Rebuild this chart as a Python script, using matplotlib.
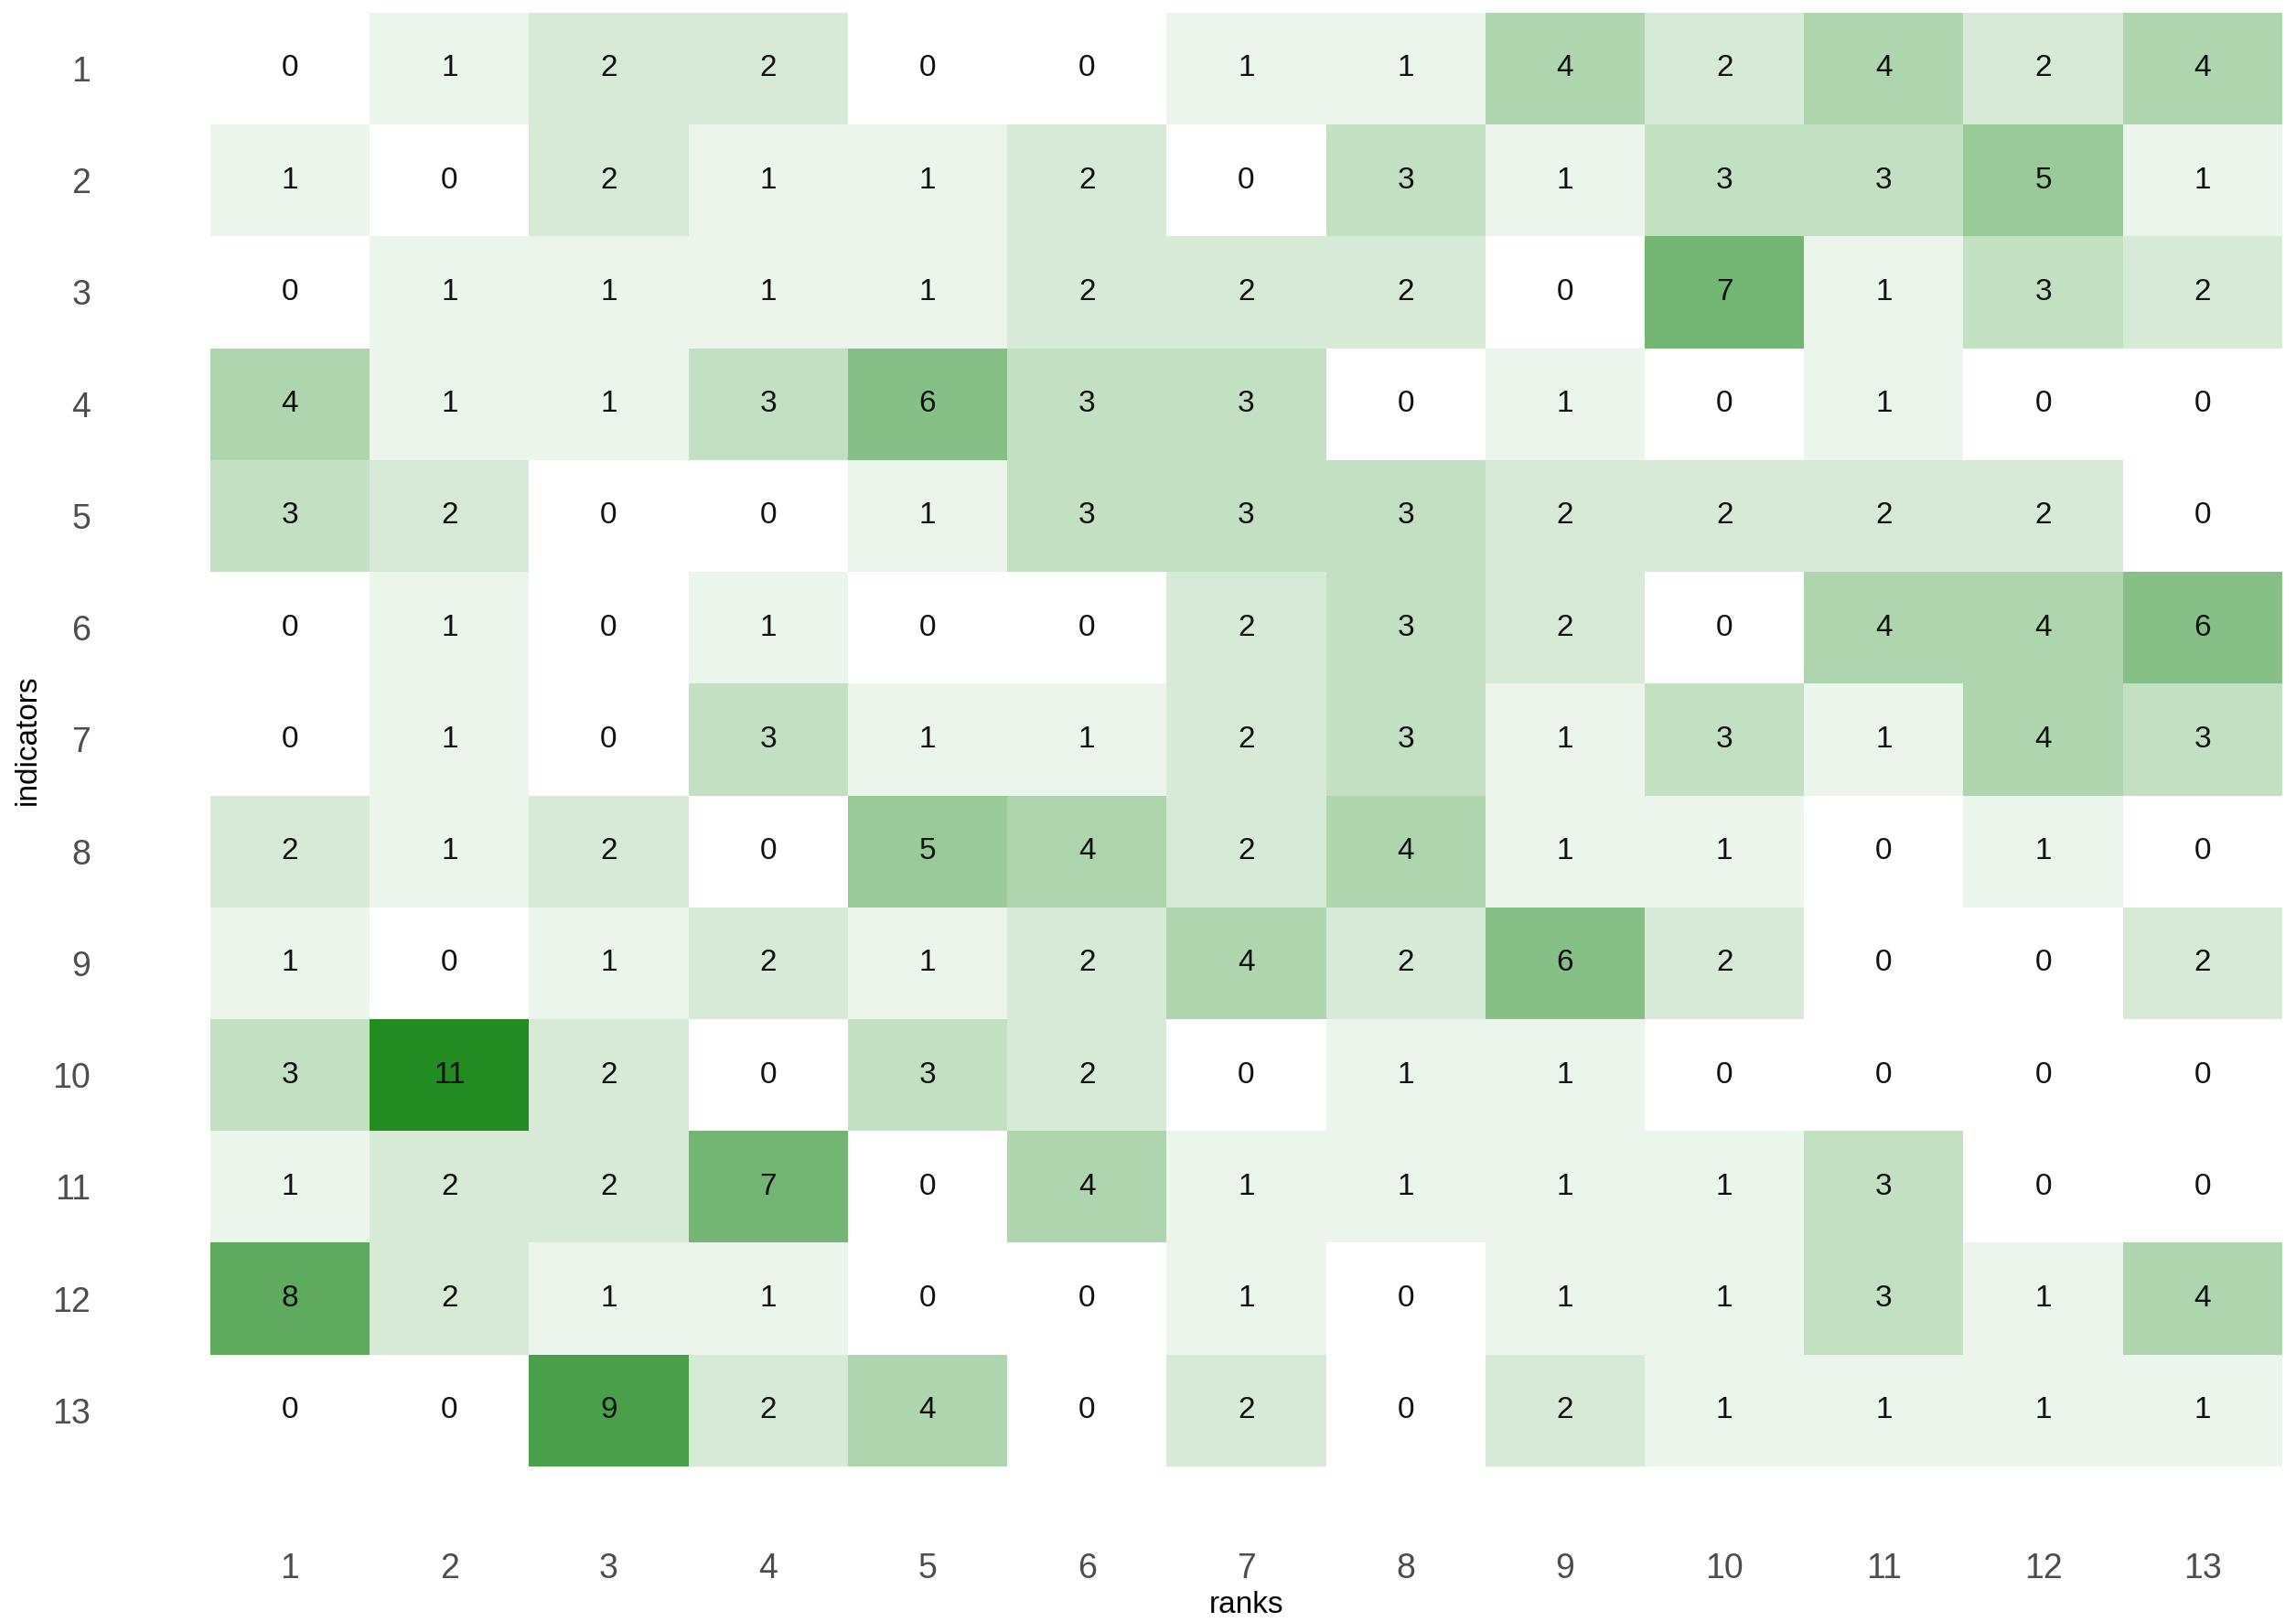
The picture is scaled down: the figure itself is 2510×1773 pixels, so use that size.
import numpy as np
import matplotlib
matplotlib.use("Agg")
import matplotlib.pyplot as plt
from matplotlib.colors import LinearSegmentedColormap

plt.rcParams["font.family"] = ["Liberation Sans", "DejaVu Sans"]

# --- data: counts of each rank per indicator ---
indicators = [str(i) for i in range(1, 14)]
ranks = [str(i) for i in range(1, 14)]
counts = [
    [0, 1, 2, 2, 0, 0, 1, 1, 4, 2, 4, 2, 4],
    [1, 0, 2, 1, 1, 2, 0, 3, 1, 3, 3, 5, 1],
    [0, 1, 1, 1, 1, 2, 2, 2, 0, 7, 1, 3, 2],
    [4, 1, 1, 3, 6, 3, 3, 0, 1, 0, 1, 0, 0],
    [3, 2, 0, 0, 1, 3, 3, 3, 2, 2, 2, 2, 0],
    [0, 1, 0, 1, 0, 0, 2, 3, 2, 0, 4, 4, 6],
    [0, 1, 0, 3, 1, 1, 2, 3, 1, 3, 1, 4, 3],
    [2, 1, 2, 0, 5, 4, 2, 4, 1, 1, 0, 1, 0],
    [1, 0, 1, 2, 1, 2, 4, 2, 6, 2, 0, 0, 2],
    [3, 11, 2, 0, 3, 2, 0, 1, 1, 0, 0, 0, 0],
    [1, 2, 2, 7, 0, 4, 1, 1, 1, 1, 3, 0, 0],
    [8, 2, 1, 1, 0, 0, 1, 0, 1, 1, 3, 1, 4],
    [0, 0, 9, 2, 4, 0, 2, 0, 2, 1, 1, 1, 1],
]

data = np.array(counts)
n_rows, n_cols = data.shape

cmap = LinearSegmentedColormap.from_list("wg", ["#FFFFFF", "#228B22"])

fig = plt.figure(figsize=(25.10, 17.73), dpi=100)
ax = fig.add_axes([0.0916, 0.0959, 0.9024, 0.8963])

x_edges = np.arange(n_cols + 1) + 0.5
y_edges = np.arange(n_rows + 1) + 0.5
ax.pcolormesh(x_edges, y_edges, data, cmap=cmap, vmin=0, vmax=data.max(),
              edgecolors="none")

for i in range(n_rows):
    for j in range(n_cols):
        ax.text(j + 1, i + 1, str(data[i, j]), ha="center", va="center",
                fontsize=24, color="#111111")

ax.set_xlim(0.5, n_cols + 0.5)
ax.set_ylim(n_rows + 0.5, 0.5)

ax.set_xticks(np.arange(1, n_cols + 1))
ax.set_xticklabels(ranks)
ax.set_yticks(np.arange(1, n_rows + 1))
ax.set_yticklabels(indicators)
ax.tick_params(axis="both", length=0, labelsize=27, labelcolor="#4D4D4D")
ax.tick_params(axis="x", pad=68)
ax.tick_params(axis="y", pad=94)

for s in ax.spines.values():
    s.set_visible(False)

ax.set_xlabel("ranks", fontsize=24, va="top")
ax.xaxis.set_label_coords(0.5, -0.0855)
ax.set_ylabel("indicators", fontsize=24, va="top")
ax.yaxis.set_label_coords(-0.095, 0.5)

fig.savefig("out.png", dpi=100, facecolor="white")
